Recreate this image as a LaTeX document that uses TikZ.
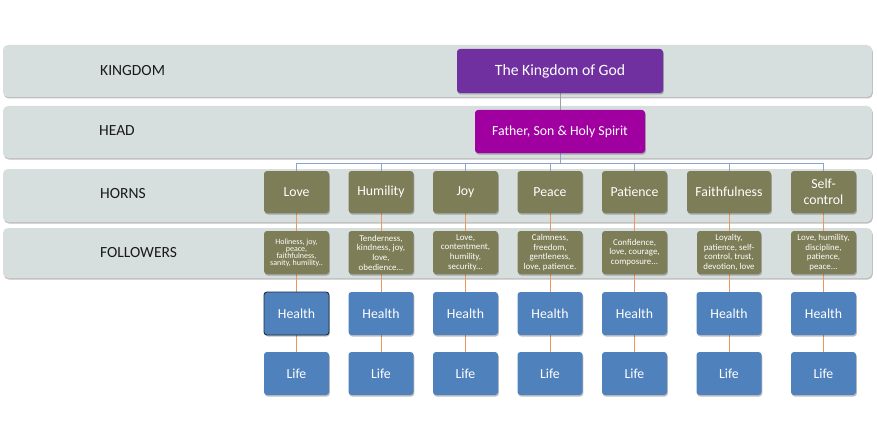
\documentclass[tikz,border=0pt]{standalone}
\usepackage{fontspec}
\setmainfont{Carlito}
\usetikzlibrary{shadows}
\definecolor{bandfill}{RGB}{215,223,222}
\definecolor{kingpurple}{RGB}{112,48,160}
\definecolor{headpurple}{RGB}{160,0,160}
\definecolor{olive}{RGB}{125,125,87}
\definecolor{bluebox}{RGB}{79,129,189}
\definecolor{orangeline}{RGB}{236,150,95}
\definecolor{busblue}{RGB}{140,165,198}
\definecolor{greyline}{RGB}{160,160,160}
\definecolor{labeltext}{RGB}{25,25,25}
\tikzset{
  shad/.style={drop shadow={shadow xshift=0.8pt, shadow yshift=-1.5pt, opacity=0.25, fill=black}},
  band/.style={fill=bandfill, rounded corners=5pt, shad},
  bandlabel/.style={anchor=west, inner sep=0pt, text=labeltext, font=\fontsize{15.5}{18}\selectfont},
  topbox/.style={fill=kingpurple, rounded corners=3pt, shad, text=white, inner sep=0pt,
     minimum width=206pt, minimum height=44pt, font=\fontsize{15.7}{18}\selectfont},
  headbox/.style={fill=headpurple, rounded corners=3pt, shad, text=white, inner sep=0pt,
     minimum width=170pt, minimum height=43pt, font=\fontsize{13.8}{16}\selectfont},
  hornbox/.style={fill=olive, rounded corners=3pt, shad, text=white, inner sep=0pt, align=center,
     minimum width=65pt, minimum height=42pt, font=\fontsize{13.8}{16}\selectfont},
  follbox/.style={fill=olive, rounded corners=3pt, shad, text=white, inner sep=0pt, align=center,
     minimum width=65pt, minimum height=43pt, font=\fontsize{8.9}{9.7}\selectfont},
  bluenode/.style={fill=bluebox, rounded corners=3pt, shad, text=white, inner sep=0pt,
     minimum width=65pt, minimum height=43pt, font=\fontsize{13.8}{16}\selectfont},
  orangelink/.style={draw=orangeline, line width=1pt},
  busline/.style={draw=busblue, line width=0.9pt},
  greylink/.style={draw=greyline, line width=0.9pt},
}
\begin{document}
\begin{tikzpicture}[x=1pt,y=-1pt]
\useasboundingbox (0,0) rectangle (877,441);
\fill[white] (0,0) rectangle (877,441);
% bands
\path[band] (3,45) rectangle (872,97);
\path[band] (3,106) rectangle (872,158);
\path[band] (3,169) rectangle (872,222);
\path[band] (3,228) rectangle (872,278);
\node[bandlabel] (lk) at (100,71) {KINGDOM};
\node[bandlabel] (lh) at (99,131) {HEAD};
\node[bandlabel] (lho) at (100,194) {HORNS};
\node[bandlabel] (lf) at (100,253) {FOLLOWERS};
% connectors drawn first
\coordinate (bus) at (560,163);
\coordinate (kc) at (560,71);
\coordinate (hc) at (560,131.5);
\draw[greylink] (kc) -- (hc);
\draw[busline] (hc) -- (bus);
\foreach \x/\n in {296.5/1,381/2,465.5/3,550/4,634.5/5,729/6,823.5/7}{
  \coordinate (top\n) at (\x,192);
  \coordinate (bot\n) at (\x,373.5);
  \draw[busline] (bus) -| (top\n);
  \draw[orangelink] (top\n) -- (bot\n);
}
% top boxes
\node[topbox] (king) at (kc) {The Kingdom of God};
\node[headbox] (head) at (hc) {Father, Son \& Holy Spirit};
% horns
\node[hornbox] (h1) at (296.5,192) {Love};
\node[hornbox] (h2) at (381,192) {Humility};
\node[hornbox] (h3) at (465.5,192) {Joy};
\node[hornbox] (h4) at (550,192) {Peace};
\node[hornbox] (h5) at (634.5,192) {Patience};
\node[hornbox, minimum width=84pt] (h6) at (729,192) {Faithfulness};
\node[hornbox] (h7) at (823.5,192) {Self-\\control};
% followers
\node[follbox, font=\fontsize{8}{7}\selectfont] (f1) at (296.5,252.5) {Holiness, joy,\\peace,\\faithfulness,\\sanity, humility..};
\node[follbox] (f2) at (381,252.5) {Tenderness,\\kindness, joy,\\love,\\obedience...};
\node[follbox] (f3) at (465.5,252.5) {Love,\\contentment,\\humility,\\security...};
\node[follbox] (f4) at (550,252.5) {Calmness,\\freedom,\\gentleness,\\love, patience.};
\node[follbox] (f5) at (634.5,252.5) {Confidence,\\love, courage,\\composure...};
\node[follbox, minimum width=64pt] (f6) at (729,252.5) {Loyalty,\\patience, self-\\control, trust,\\devotion, love};
\node[follbox] (f7) at (823.5,252.5) {Love, humility,\\discipline,\\patience,\\peace...};
% health
\node[bluenode, draw=black!65!bluebox, line width=0.9pt] (g1) at (296.5,313.5) {Health};
\node[bluenode] (g2) at (381,313.5) {Health};
\node[bluenode] (g3) at (465.5,313.5) {Health};
\node[bluenode] (g4) at (550,313.5) {Health};
\node[bluenode] (g5) at (634.5,313.5) {Health};
\node[bluenode] (g6) at (729,313.5) {Health};
\node[bluenode] (g7) at (823.5,313.5) {Health};
% life
\node[bluenode] (l1) at (296.5,373.5) {Life};
\node[bluenode] (l2) at (381,373.5) {Life};
\node[bluenode] (l3) at (465.5,373.5) {Life};
\node[bluenode] (l4) at (550,373.5) {Life};
\node[bluenode] (l5) at (634.5,373.5) {Life};
\node[bluenode] (l6) at (729,373.5) {Life};
\node[bluenode] (l7) at (823.5,373.5) {Life};
\end{tikzpicture}
\end{document}
